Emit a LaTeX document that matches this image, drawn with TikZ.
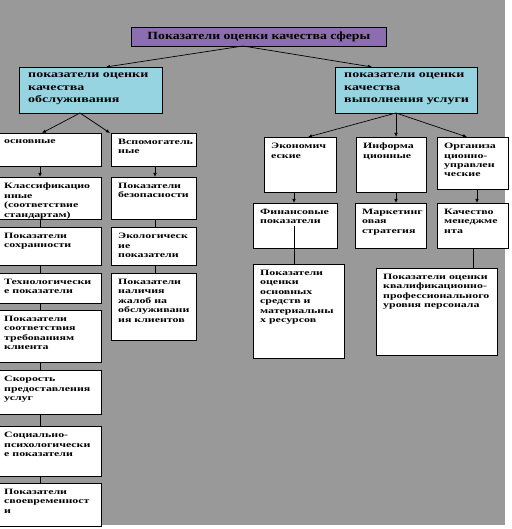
\documentclass[tikz,border=0pt]{standalone}
\usepackage{fontspec}
\setmainfont{Liberation Serif}[FakeStretch=1.25]
\newfontfamily\smallf{Liberation Serif}[FakeStretch=1.45]
\newfontfamily\bluef{Liberation Serif}[FakeStretch=1.4]
\usetikzlibrary{arrows.meta}
\definecolor{bggray}{RGB}{153,153,153}
\definecolor{titlepurple}{RGB}{140,110,176}
\definecolor{lightblue}{RGB}{150,212,226}
\tikzset{
  bx/.style={draw=black, line width=0.8pt, fill=white, anchor=north west, inner sep=0pt},
  tt/.style={anchor=north west, align=left, inner sep=0pt, font=\smallf\bfseries\fontsize{8.2}{9.4}\selectfont},
  bt/.style={anchor=north west, align=left, inner sep=0pt, font=\bluef\bfseries\fontsize{10}{12.5}\selectfont},
  arr/.style={draw=black, line width=0.7pt, -{Latex[length=4pt,width=3.5pt]}},
  ln/.style={draw=black, line width=0.7pt}
}
\newcommand{\bxnode}[6]{% name, x, y, w, h, text
  \node[bx, minimum width=#4pt, minimum height=#5pt] (#1) at (#2,#3) {};
  \node[tt] (#1t) at ([shift={(7pt,-6pt)}]#1.north west) {#6};
}
\begin{document}
\begin{tikzpicture}[x=1pt,y=-1pt]
\useasboundingbox (0,0) rectangle (511,529);
\fill[white] (0,0) rectangle (511,529);
\fill[bggray] (0,0) rectangle (505,525);

% title
\node[bx, fill=titlepurple, minimum width=255pt, minimum height=19pt] (title) at (131,27) {};
\node[font=\bfseries\fontsize{11}{13}\selectfont, inner sep=0pt] (titlet) at (title.center) {Показатели оценки качества сферы};

% blue boxes
\node[bx, fill=lightblue, minimum width=143pt, minimum height=46pt] (lb) at (19,67) {};
\node[bt] (lbt) at ([shift={(9pt,-6pt)}]lb.north west) {показатели оценки\\качества\\обслуживания};
\node[bx, fill=lightblue, minimum width=142pt, minimum height=46pt] (rb) at (335,67) {};
\node[bt] (rbt) at ([shift={(9pt,-6pt)}]rb.north west) {показатели оценки\\качества\\выполнения услуги};

\coordinate (tb) at (243,46);
\draw[arr] (tb) -- (106,67);
\draw[arr] (tb) -- (372,67);

% left column
\bxnode{a1}{-3}{133}{104}{33}{основные}
\bxnode{a2}{-3}{177}{104}{42}{Классификацио\\нные\\(соответствие\\стандартам)}
\bxnode{a3}{-3}{227}{104}{38}{Показатели\\сохранности}
\bxnode{a4}{-3}{273}{104}{30}{Технологически\\е показатели}
\bxnode{a5}{-3}{310}{104}{52}{Показатели\\соответствия\\требованиям\\клиента}
\bxnode{a6}{-3}{370}{104}{44}{Скорость\\предоставления\\услуг}
\bxnode{a7}{-3}{426}{104}{50}{Социально-\\психологически\\е показатели}
\bxnode{a8}{-3}{483}{104}{43}{Показатели\\своевременност\\и}

% middle column
\bxnode{b1}{111}{133}{85}{33}{Вспомогатель\\ные}
\bxnode{b2}{111}{177}{85}{42}{Показатели\\безопасности}
\bxnode{b3}{111}{227}{85}{38}{Экологическ\\ие\\показатели}
\bxnode{b4}{111}{273}{85}{67}{Показатели\\наличия\\жалоб на\\обслуживани\\ия клиентов}

\coordinate (lbb) at (80,113);
\draw[arr] (lbb) -- (42,133);
\draw[arr] (lbb) -- (110,133);

\draw[arr] (40,166) -- (40,177);
\draw[arr] (155,166) -- (155,177);
\draw[ln] (40,219) -- (40,227);
\draw[ln] (40,265) -- (40,273);
\draw[ln] (40,303) -- (40,310);
\draw[ln] (40,362) -- (40,370);
\draw[ln] (40,414) -- (40,426);
\draw[ln] (40,476) -- (40,483);
\draw[ln] (155,219) -- (155,227);
\draw[ln] (155,265) -- (155,273);

% right side
\bxnode{c1}{264}{137}{72}{55}{Экономич\\еские}
\bxnode{c2}{356}{137}{70}{55}{Информа\\ционные}
\bxnode{c3}{437}{137}{71}{52}{Организа\\ционно-\\управлен\\ческие}
\bxnode{d1}{253}{203}{84}{45}{Финансовые\\показатели}
\bxnode{d2}{355}{203}{71}{45}{Маркетинг\\овая\\стратегия}
\bxnode{d3}{437}{203}{71}{45}{Качество\\менеджме\\нта}
\bxnode{e1}{253}{264}{91}{94}{Показатели\\оценки\\основных\\средств и\\материальны\\х ресурсов}
\bxnode{e2}{376}{268}{121}{87}{Показатели оценки\\квалификационно-\\профессионального\\уровня персонала}

\coordinate (rbb) at (396,113);
\draw[arr] (rbb) -- (308,137);
\draw[arr] (rbb) -- (396,137);
\draw[arr] (rbb) -- (467,137);

\draw[arr] (294,192) -- (294,203);
\draw[arr] (396,192) -- (396,203);
\draw[arr] (477,189) -- (477,203);
\coordinate (d1in) at (294,226);
\draw[ln] (d1in) -- (294,264);
\draw[ln] (473,248) -- (473,268);
\end{tikzpicture}
\end{document}
